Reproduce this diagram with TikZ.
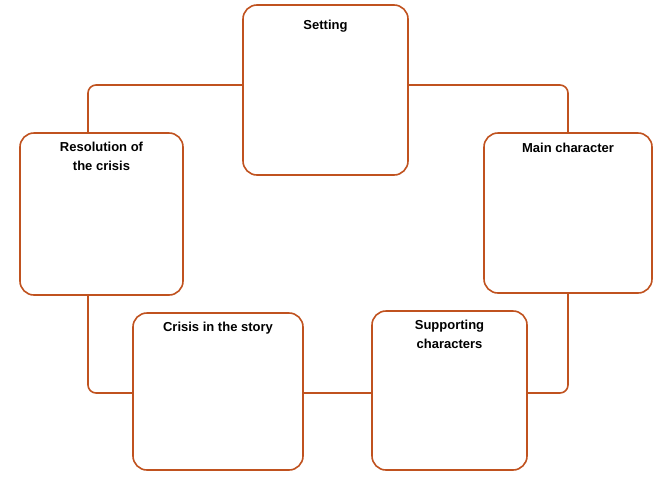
\documentclass[tikz,border=0pt]{standalone}
\usepackage{fontspec}
\setmainfont{Liberation Sans}
\definecolor{frame}{HTML}{C0521F}
\begin{document}
\begin{tikzpicture}[x=1pt,y=-1pt,
    box/.style={draw=frame, line width=1.6pt, rounded corners=14pt, fill=white, inner sep=0pt},
    lbl/.style={font=\bfseries\fontsize{13}{15}\selectfont, align=center, anchor=north, inner sep=0pt}]
    \useasboundingbox (0,0) rectangle (660,480);
    % loop behind the boxes
    \coordinate (tl) at (88,85);
    \coordinate (br) at (568,393);
    \draw[frame, line width=1.6pt, rounded corners=8pt] (tl) rectangle (br);

    \node[box, minimum width=165, minimum height=170] (set) at (325.5,90) {};
    \node[box, minimum width=168, minimum height=160] (main) at (568,213) {};
    \node[box, minimum width=155, minimum height=159] (supp) at (449.5,390.5) {};
    \node[box, minimum width=170, minimum height=157] (cris) at (218,391.5) {};
    \node[box, minimum width=163, minimum height=162] (res) at (101.5,214) {};

    \node[lbl] at ([yshift=-16]set.north) {Setting};
    \node[lbl] at ([yshift=-11]main.north) {Main character};
    \node[lbl] at ([yshift=-10]supp.north) {Supporting\\[4pt]characters};
    \node[lbl] at ([yshift=-10]cris.north) {Crisis in the story};
    \node[lbl] at ([yshift=-10]res.north) {Resolution of\\[4pt]the crisis};
\end{tikzpicture}
\end{document}
